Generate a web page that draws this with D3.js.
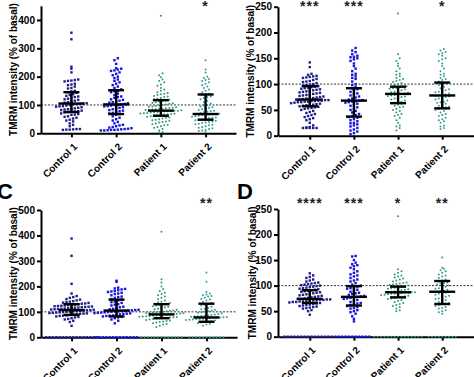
<!DOCTYPE html>
<html>
<head>
<meta charset="utf-8">
<script src="https://cdn.jsdelivr.net/npm/d3@7"></script>
<style>
  body { margin: 0; background: #fff; }
  svg { display: block; font-family: "Liberation Sans", Arial, sans-serif; }
</style>
</head>
<body>
<svg id="chart" width="474" height="377"></svg>
<script>
const categories = ["Control 1", "Control 2", "Patient 1", "Patient 2"];
const colors = ["#1f1f8c", "#1414dc", "#2e9a74", "#369c98"];

// panel A (top left)
const aControl1 = [355,332,235,228,215,190,188,186,185,183,175,172,170,165,160,158,150,148,145,143,138,135,132,130,128,125,122,120,118,115,113,110,108,106,105,104,103,102,100,98,96,95,94,92,90,88,86,85,84,82,80,78,77,76,75,74,70,68,66,65,60,58,55,52,48,45,42,35,30,25,15,14,13,13,12,15];
const aControl2 = [265,258,245,230,228,225,222,220,215,210,205,200,195,190,185,180,175,170,165,160,155,150,148,145,140,135,130,128,125,120,118,115,112,110,108,106,104,102,100,100,98,96,95,92,90,88,85,82,80,78,75,72,70,68,65,60,55,50,45,40,35,30,28,25,22,20,18,16,15,14,13,12,12,11,10,10];
const aPatient1 = [415,212,205,198,190,185,180,172,168,160,155,150,145,142,140,138,135,132,130,128,125,122,120,118,116,114,112,110,108,106,104,102,100,98,96,95,94,92,90,89,88,87,86,85,84,83,82,81,80,80,79,78,77,76,75,74,73,72,71,70,69,68,67,66,65,64,62,60,58,56,55,52,50,48,46,44,42,40,38,35,32,30,28,25,22,20,15,10,5,3];
const aPatient2 = [258,225,215,200,195,192,188,185,180,175,170,165,160,155,150,145,140,138,135,130,128,125,120,115,110,105,100,98,95,92,90,88,85,82,80,78,76,74,72,70,69,68,67,66,65,64,62,60,58,56,55,54,52,50,48,46,44,42,40,38,36,34,32,30,28,25,22,20,18,15,12,10,8,5];
const aBars = [[75,105,145],[68,102,152],[62,80,117],[48,68,137]]; // q1, median, q3
const aStars = ["", "", "", "*"];
const aTicks = [0,100,200,300,400];

// panel B (top right)
const bControl1 = [142,133,120,118,116,115,114,113,112,110,108,106,105,104,102,100,99,98,97,96,95,94,93,92,91,90,89,88,87,86,85,84,83,82,81,80,79,78,77,76,75,74,73,72,72,71,70,70,69,69,68,68,67,67,66,66,65,65,64,63,62,61,60,60,59,58,57,56,55,54,53,52,50,48,46,44,42,40,38,36,34,32,30,25,20,17,16,15,15,15,15,15];
const bControl2 = [170,165,162,158,155,153,152,150,148,145,140,135,130,125,120,118,115,112,110,105,100,98,95,92,90,88,85,82,80,78,76,74,72,70,69,68,67,66,65,64,62,60,58,55,52,50,48,45,42,40,38,36,35,32,30,28,25,24,22,20,18,15,12,10,8,5,3];
const bPatient1 = [237,158,150,145,140,135,130,125,120,118,115,112,110,108,106,104,102,100,98,96,95,94,93,92,91,90,88,86,85,84,83,82,81,80,79,78,77,76,75,74,72,70,68,66,65,64,63,62,60,58,56,55,52,50,48,45,42,40,38,35,30,25,20,18,15,10];
const bPatient2 = [168,165,162,160,158,155,150,148,145,140,135,130,125,120,118,115,112,110,108,105,102,100,98,95,92,90,88,86,85,84,82,80,79,78,77,76,75,74,72,70,68,66,65,64,62,60,58,56,55,54,52,50,48,45,42,40,38,35,32,30,28,25,20,18,15,13];
const bBars = [[57,70,96],[37,68,92],[63,81,95],[53,78,103]];
const bStars = ["***", "***", "", "*"];
const bTicks = [0,50,100,150,200,250];

// panel C (bottom left)
const cControl1 = [388,320,210,172,162,158,155,150,148,145,142,140,138,136,135,133,132,130,128,127,126,125,124,123,122,121,120,119,118,117,116,115,114,113,112,111,110,109,108,107,106,105,104,103,102,101,100,99,98,97,96,95,94,93,92,91,90,88,86,85,84,82,80,78,75,72,70,65,60,45,0,0,0,0,0,0,0,0,0,0,0,0,0,0,0,0];
const cControl2 = [222,218,195,192,190,188,185,182,180,178,175,172,170,165,160,158,155,150,148,145,140,138,135,130,128,125,120,118,115,112,110,108,107,106,105,104,103,102,101,100,99,98,97,96,95,94,93,92,90,88,86,85,84,82,80,78,75,70,65,55,0,0,0,0,0,0,0,0,0,0,0,0,0];
const cPatient1 = [415,228,215,200,190,182,175,170,165,160,155,150,145,140,138,135,132,130,128,125,122,120,118,115,112,110,108,106,104,102,100,99,98,97,96,95,94,93,92,91,90,89,88,87,86,85,84,83,82,81,80,79,78,77,76,75,74,72,70,68,66,64,62,60,58,55,52,50,45,40,0,0,0,0,0,0,0,0,0,0,0,0,0];
const cPatient2 = [255,218,178,172,168,165,162,160,155,150,148,145,140,135,130,128,125,120,115,112,110,108,105,102,100,98,96,94,92,90,88,86,85,84,83,82,81,80,79,78,77,76,75,74,73,72,71,70,69,68,66,64,62,60,58,55,52,50,45,0,0,0,0,0,0,0,0,0,0,0];
const cBars = [[88,107,130],[82,105,148],[75,90,130],[61,78,132]];
const cStars = ["", "", "", "**"];
const cTicks = [0,100,200,300,400,500];

// panel D (bottom right)
const dControl1 = [124,120,117,115,112,110,108,106,105,104,103,102,101,100,99,98,97,96,95,94,93,92,91,90,89,88,87,86,85,84,83,82,81,80,79,78,77,76,75,74,74,73,73,72,72,71,71,70,70,69,69,68,68,67,66,65,64,63,62,61,60,59,58,57,56,55,52,50,43,0,0,0,0,0,0,0,0,0,0,0,0,0,0,0,0];
const dControl2 = [158,157,150,145,142,140,138,135,132,128,125,122,120,118,115,112,110,108,105,102,100,98,96,95,94,92,90,88,86,85,84,82,80,79,78,77,76,75,74,72,70,68,66,65,64,62,60,58,56,55,52,50,48,45,40,35,30,0,0,0,0,0,0,0,0,0,0];
const dPatient1 = [236,132,128,125,122,120,118,116,114,112,110,108,106,105,104,103,102,101,100,99,98,97,96,95,94,93,92,91,90,89,88,88,87,87,86,86,85,85,84,84,83,82,81,80,79,78,77,76,75,74,72,70,68,66,64,62,60,58,55,52,50,0,0,0,0,0,0,0,0,0,0,0,0,0,0,0];
const dPatient2 = [155,135,133,130,128,125,122,120,118,115,112,110,108,106,105,104,102,100,98,96,95,94,92,90,89,88,87,86,85,84,82,80,78,76,75,74,72,70,68,66,65,64,62,60,58,56,55,52,50,48,45,0,0,0,0,0,0,0,0,0];
const dBars = [[66,74,91],[61,78,99],[77,87,98],[64,88,109]];
const dStars = ["****", "***", "*", "**"];
const dTicks = [0,50,100,150,200,250];

const panels = [
  { letter: "",  groups: [aControl1, aControl2, aPatient1, aPatient2], bars: aBars, stars: aStars, ticks: aTicks,
    yMax: 450, x0: 41, x1: 236, yBase: 133.3, yTop: 5.8, pad: 0.68, titleX: 16.5, starY: 11 },
  { letter: "",  groups: [bControl1, bControl2, bPatient1, bPatient2], bars: bBars, stars: bStars, ticks: bTicks,
    yMax: 250, x0: 278, x1: 474, yBase: 135.7, yTop: 6.7, pad: 0.72, titleX: 254, starY: 11 },
  { letter: "C", groups: [cControl1, cControl2, cPatient1, cPatient2], bars: cBars, stars: cStars, ticks: cTicks,
    yMax: 500, x0: 41, x1: 237, yBase: 337.3, yTop: 210, pad: 0.68, titleX: 17, starY: 208, letterX: -3, letterY: 199 },
  { letter: "D", groups: [dControl1, dControl2, dPatient1, dPatient2], bars: dBars, stars: dStars, ticks: dTicks,
    yMax: 250, x0: 278, x1: 474, yBase: 336.7, yTop: 209, pad: 0.72, titleX: 256, starY: 208, letterX: 237, letterY: 199 }
];

const svg = d3.select("#chart");

// spread points sideways inside rows of similar pixel height
function swarm(vals, y, cx, spacing, rowPx) {
  const rows = d3.group(vals, v => Math.round(y(v) / rowPx));
  const out = [];
  for (const [, arr] of rows) {
    arr.sort((a, b) => a - b);
    arr.forEach((v, i) => out.push({ x: cx + (i - (arr.length - 1) / 2) * spacing, y: y(v) }));
  }
  return out;
}

panels.forEach(p => {
  const g = svg.append("g");
  const x = d3.scalePoint().domain(categories).range([p.x0, p.x1]).padding(p.pad);
  const y = d3.scaleLinear().domain([0, p.yMax]).range([p.yBase, p.yTop]);

  // reference line at 100 %
  g.append("line")
    .attr("x1", p.x0).attr("x2", p.x1)
    .attr("y1", y(100)).attr("y2", y(100))
    .attr("stroke", "#333").attr("stroke-width", 1)
    .attr("stroke-dasharray", "2,1.5");

  const yAxis = g.append("g")
    .attr("transform", `translate(${p.x0},0)`)
    .call(d3.axisLeft(y).tickValues(p.ticks).tickSize(4).tickSizeOuter(0).tickPadding(2));

  const xAxis = g.append("g")
    .attr("transform", `translate(0,${p.yBase})`)
    .call(d3.axisBottom(x).tickSize(4).tickSizeOuter(0));

  [yAxis, xAxis].forEach(a => {
    a.select(".domain").attr("stroke", "#000").attr("stroke-width", 2);
    a.selectAll(".tick line").attr("stroke", "#000").attr("stroke-width", 2);
    a.selectAll("text").attr("font-size", 10).attr("font-weight", "bold").attr("fill", "#000")
      .attr("font-family", "Liberation Sans, Arial, sans-serif");
  });

  xAxis.selectAll(".tick text")
    .attr("text-anchor", "end")
    .attr("x", 0).attr("y", 0).attr("dy", 0)
    .attr("transform", "translate(6,14) rotate(-45)");

  // dots
  p.groups.forEach((vals, i) => {
    const pts = swarm(vals, y, x(categories[i]), 3.4, 3.5);
    if (i < 2) {
      g.append("g").selectAll("rect").data(pts).join("rect")
        .attr("x", d => d.x - 1.2).attr("y", d => d.y - 1.2)
        .attr("width", 2.4).attr("height", 2.4)
        .attr("fill", colors[i]);
    } else {
      g.append("g").selectAll("circle").data(pts).join("circle")
        .attr("cx", d => d.x).attr("cy", d => d.y).attr("r", 1)
        .attr("fill", colors[i]);
    }
  });

  // median and interquartile range
  const eb = g.append("g").attr("stroke", "#000").attr("stroke-width", 2.4);
  p.bars.forEach((b, i) => {
    const cx = x(categories[i]);
    eb.append("line").attr("x1", cx).attr("x2", cx).attr("y1", y(b[0])).attr("y2", y(b[2]));
    eb.append("line").attr("x1", cx - 8).attr("x2", cx + 8).attr("y1", y(b[0])).attr("y2", y(b[0]));
    eb.append("line").attr("x1", cx - 8).attr("x2", cx + 8).attr("y1", y(b[2])).attr("y2", y(b[2]));
    eb.append("line").attr("x1", cx - 13).attr("x2", cx + 13).attr("y1", y(b[1])).attr("y2", y(b[1]));
  });

  // significance stars
  g.selectAll(".star").data(p.stars).join("text")
    .attr("x", (d, i) => x(categories[i]))
    .attr("y", p.starY)
    .attr("text-anchor", "middle")
    .attr("font-size", 14).attr("font-weight", "bold")
    .attr("letter-spacing", 1)
    .attr("fill", "#222")
    .text(d => d);

  // y axis title
  g.append("text")
    .attr("transform", `translate(${p.titleX},${(p.yBase + p.yTop) / 2}) rotate(-90)`)
    .attr("text-anchor", "middle")
    .attr("font-size", 10).attr("font-weight", "bold")
    .text("TMRM intensity (% of basal)");

  if (p.letter) {
    g.append("text")
      .attr("x", p.letterX).attr("y", p.letterY)
      .attr("font-size", 22).attr("font-weight", "bold")
      .text(p.letter);
  }
});
</script>
</body>
</html>
